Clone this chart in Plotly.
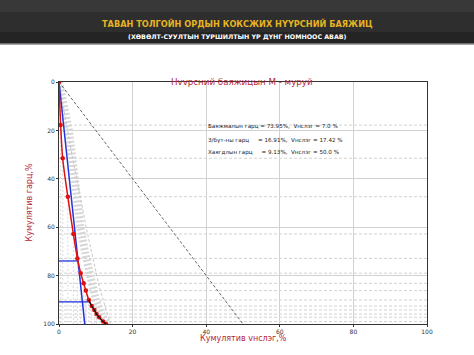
import plotly.graph_objects as go

# ---- data ----
red_x = [0.0, 0.45, 1.0, 2.4, 3.9, 5.0, 5.9, 6.7, 7.3, 8.1, 8.9, 9.6, 10.2, 10.9, 12.0, 12.8]
red_y = [0.0, 17.8, 31.5, 47.4, 62.8, 72.9, 79.0, 83.2, 86.2, 90.1, 92.6, 94.2, 95.9, 97.2, 99.0, 100.0]
tail_x = [8.1, 8.9, 9.6, 10.2, 10.9, 12.0, 12.8]
tail_y = [90.1, 92.6, 94.2, 95.9, 97.2, 99.0, 100.0]
blue_x = [0.0, 7.0]
blue_y = [0.0, 100.0]
diag_x = [0.0, 50.0]
diag_y = [0.0, 100.0]
band_x = [0.0, 2.7, 4.3, 5.8, 7.3, 8.6, 10.0, 11.5, 13.0]
band_y = [0.0, 20.0, 40.0, 60.0, 72.0, 82.0, 90.0, 96.0, 100.0]
thin_x = [0.0, 3.5, 7.8, 11.0, 14.0]
thin_y = [0.0, 30.0, 63.0, 85.0, 100.0]
conc_yield = 73.95
mid_yield = 16.91
conc_x_end = 5.1
mid_x_end = 8.3
ticks = [0, 20, 40, 60, 80, 100]
info_lines = [
    "Баяжмалын гарц = 73.95%,  Vнслэг = 7.0 %",
    "З/бүт-ны гарц     = 16.91%,  Vнслэг = 17.42 %",
    "Хаягдлын гарц     = 9.13%,  Vнслэг = 50.0 %",
]
info_y = [18.2, 24.0, 29.3]

fig = go.Figure()

# dashed horizontal guides at data y values
hx, hy = [], []
for y in red_y[1:-1]:
    hx += [0, 100, None]
    hy += [y, y, None]
fig.add_trace(go.Scatter(x=hx, y=hy, mode="lines", line=dict(color="#d2d2d2", width=1, dash="3px,2px"),
                         hoverinfo="skip", showlegend=False))
# dashed vertical guides at data x values
vx, vy = [], []
for x, y in zip(red_x[1:-1], red_y[1:-1]):
    vx += [x, x, None]
    vy += [y, 100, None]
fig.add_trace(go.Scatter(x=vx, y=vy, mode="lines", line=dict(color="#d8d8d8", width=1, dash="2px,2px"),
                         hoverinfo="skip", showlegend=False))

# thick gray hatched band
fig.add_trace(go.Scatter(x=band_x, y=band_y, mode="lines", line=dict(color="#d6d6d6", width=8, dash="2px,2px"),
                         hoverinfo="skip", showlegend=False))
fig.add_trace(go.Scatter(x=thin_x, y=thin_y, mode="lines", line=dict(color="#c8c8c8", width=1, dash="3px,2px"),
                         hoverinfo="skip", showlegend=False))

# diagonal dashed
fig.add_trace(go.Scatter(x=diag_x, y=diag_y, mode="lines", line=dict(color="#666666", width=1, dash="3px,2px"),
                         showlegend=False))

# blue horizontal yield lines
fig.add_trace(go.Scatter(x=[0, conc_x_end, None, 0, mid_x_end],
                         y=[conc_yield, conc_yield, None, conc_yield + mid_yield, conc_yield + mid_yield],
                         mode="lines", line=dict(color="#2233dd", width=1.3), showlegend=False))
# blue line
fig.add_trace(go.Scatter(x=blue_x, y=blue_y, mode="lines", line=dict(color="#2233dd", width=1.5), showlegend=False))
# red curve
fig.add_trace(go.Scatter(x=red_x, y=red_y, mode="lines+markers", line=dict(color="#e01010", width=1.5, shape="spline"),
                         marker=dict(color="#e01010", size=4.5), showlegend=False))
# black tail
fig.add_trace(go.Scatter(x=tail_x, y=tail_y, mode="lines", line=dict(color="#111111", width=1.2, shape="spline"),
                         showlegend=False))

W, H = 474, 355
L, R, T, B = 59, 47, 82, 31
pw, ph = W - L - R, H - T - B

def px(p):
    return (p - L) / pw

def py(p):
    return (H - B - p) / ph

shapes = [
    dict(type="rect", xref="paper", yref="paper", x0=px(0), x1=px(W), y0=py(44), y1=py(0),
         fillcolor="#2e2e2e", line=dict(width=0), layer="below"),
    dict(type="rect", xref="paper", yref="paper", x0=px(0), x1=px(W), y0=py(12), y1=py(0),
         fillcolor="#383838", line=dict(width=0), layer="below"),
    dict(type="rect", xref="paper", yref="paper", x0=px(0), x1=px(W), y0=py(44), y1=py(32),
         fillcolor="#242424", line=dict(width=0), layer="below"),
    dict(type="line", xref="paper", yref="paper", x0=px(0), x1=px(W), y0=py(44), y1=py(44),
         line=dict(color="#8a8a8a", width=1.5)),
]

annotations = [
    dict(text="<b>ТАВАН ТОЛГОЙН ОРДЫН КОКСЖИХ НҮҮРСНИЙ БАЯЖИЦ</b>", x=px(237), y=py(16), xref="paper", yref="paper",
         showarrow=False, font=dict(family="DejaVu Sans", size=8.2, color="#e6b422")),
    dict(text="<b>(ХӨВӨЛТ-СУУЛТЫН ТУРШИЛТЫН ҮР ДҮНГ НОМНООС АВАВ)</b>", x=px(237), y=py(31), xref="paper", yref="paper",
         showarrow=False, font=dict(family="DejaVu Sans", size=6.3, color="#ffffff")),
    dict(text="Hvvрсний баяжицын М - муруй", x=px(242), y=py(75), xref="paper", yref="paper",
         showarrow=False, font=dict(family="DejaVu Sans", size=8.7, color="#b5283a")),
    dict(text="Кумулятив vнслэг,%", x=px(243), y=py(345), xref="paper", yref="paper",
         showarrow=False, font=dict(family="DejaVu Sans", size=8, color="#b5283a")),
    dict(text="Кумулятив гарц,%", x=px(22), y=py(203), xref="paper", yref="paper", textangle=-90,
         showarrow=False, font=dict(family="DejaVu Sans", size=8, color="#b5283a")),
]
for t, y in zip(info_lines, info_y):
    annotations.append(dict(text=t, x=40, y=y, xref="x", yref="y", xanchor="left", showarrow=False,
                            font=dict(family="DejaVu Sans", size=5.6, color="#222222")))

axis_common = dict(showgrid=True, gridcolor="#d2d2d2", gridwidth=1, zeroline=False,
                   showline=True, linecolor="#333333", linewidth=1, mirror=True,
                   ticks="outside", ticklen=2, tickcolor="#333333",
                   tickfont=dict(family="DejaVu Sans", size=6, color="#333333"),
                   tickvals=ticks)
fig.update_layout(
    width=W, height=H,
    margin=dict(l=L, r=R, t=T, b=B),
    paper_bgcolor="white", plot_bgcolor="white",
    xaxis=dict(range=[0, 100], **axis_common),
    yaxis=dict(range=[100, 0], **axis_common),
    shapes=shapes, annotations=annotations, showlegend=False,
)
fig.write_html("out.html")
